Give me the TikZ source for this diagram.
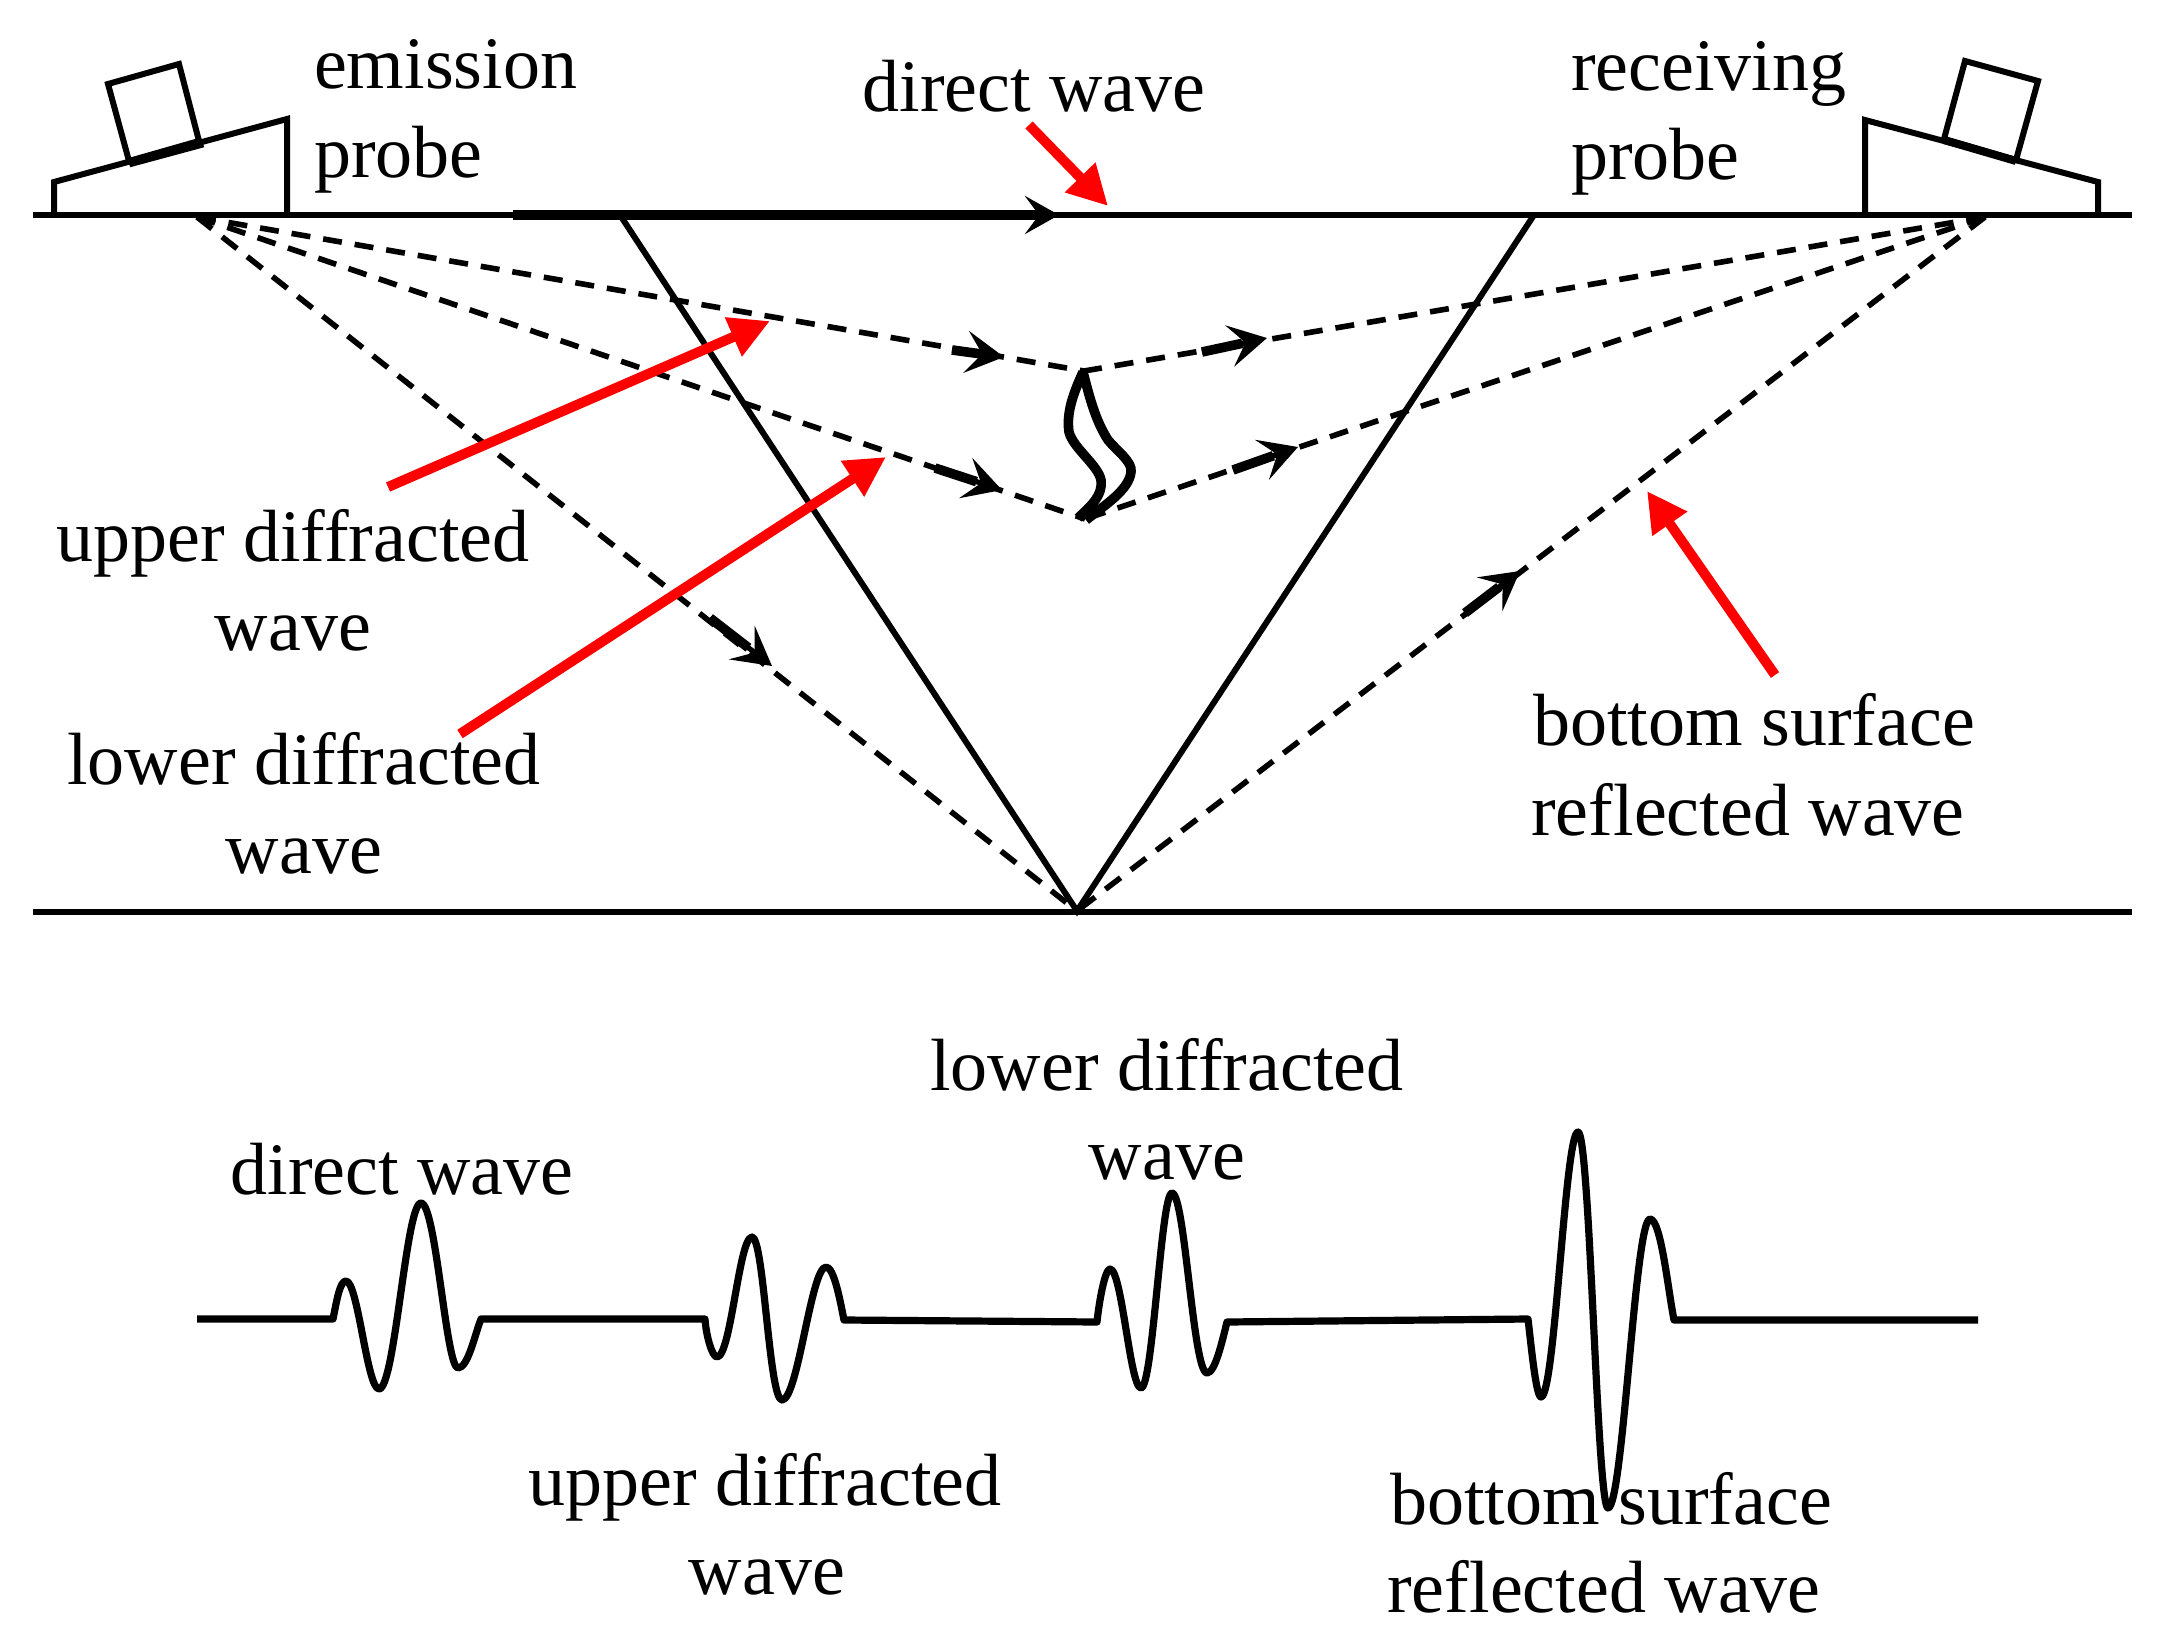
\documentclass[tikz,border=0pt]{standalone}
\usepackage{fontspec}
\setmainfont{Liberation Serif}
\usetikzlibrary{arrows.meta,calc}
\definecolor{redarrow}{HTML}{FF0000}
\tikzset{
  lbl/.style={inner sep=0pt,outer sep=0pt,font=\fontsize{37}{40}\selectfont,anchor=base},
  lblw/.style={lbl,anchor=base west},
  solidline/.style={line width=3pt,line cap=butt,line join=miter},
  dashline/.style={line width=2.8pt,dash pattern=on 9.5pt off 6.5pt},
  blackhead/.style={line width=2.6pt,-{Stealth[length=19pt,width=21pt,inset=8pt]}},
  thicktail/.style={line width=4.8pt},
  redhead/.style={draw=redarrow,line width=5pt,-{Triangle[length=20pt,width=20pt]}},
  crack/.style={line width=4.8pt,line join=round},
  trace/.style={line width=3.6pt,line join=round},
}
\newcommand{\wavearrow}[2]{%
  \draw[thicktail] (#1) -- ($(#1)!0.62!(#2)$);
  \draw[blackhead] (#1) -- (#2);}
\begin{document}
\begin{tikzpicture}[x=0.5pt,y=-0.5pt]
\useasboundingbox (0,0) rectangle (2160,1644);
\fill[white] (0,0) rectangle (2160,1644);
% key points
\coordinate (E) at (197,217);
\coordinate (R) at (1985,217);
\coordinate (P1) at (1084,371);
\coordinate (P2) at (1085,519);
\coordinate (B) at (1077,911);
\coordinate (TL) at (620,215);
\coordinate (TR) at (1534,215);
% surfaces
\coordinate (s1) at (33,215); \coordinate (s2) at (2132,215);
\coordinate (b1) at (33,912); \coordinate (b2) at (2132,912);
\draw[solidline] (s1) -- (s2);
\draw[solidline] (b1) -- (b2);
% V
\draw[solidline] (TL) -- (B) -- (TR);
% probes
\draw[solidline] (54,215) -- (54,182) -- (287,119) -- (287,215);
\draw[solidline] (108,84) -- (179,64) -- (199,141) -- (129,161) -- cycle;
\draw[line width=4.4pt] (129,163) -- (203,143);
\draw[solidline] (1865,215) -- (1865,120) -- (2098,182) -- (2098,215);
\draw[solidline] (1965,61) -- (2038,81) -- (2016,160) -- (1944,139) -- cycle;
\draw[line width=4pt] (1944,140) -- (2016,161);
% dashed paths
\draw[dashline] (E) -- (P1);
\draw[dashline] (R) -- (P1);
\draw[dashline] (E) -- (P2);
\draw[dashline] (R) -- (P2);
\draw[dashline] (E) -- (B);
\draw[dashline] (R) -- (B);
% crack
\draw[crack] (1083,372) .. controls (1074,392) and (1066,412) .. (1069,432)
  .. controls (1073,448) and (1098,465) .. (1101,480)
  .. controls (1103,495) and (1092,505) .. (1078,518);
\draw[crack] (1083,372) .. controls (1089,395) and (1095,420) .. (1108,440)
  .. controls (1116,450) and (1133,462) .. (1131,472)
  .. controls (1129,490) and (1105,505) .. (1086,520);
% black arrows
\draw[line width=5pt,-{Stealth[length=17pt,width=19pt,inset=7pt]}] (513,215) -- (1059,215);
\coordinate (u1a) at (952,350);  \coordinate (u1b) at (1004,357);
\coordinate (u2a) at (1202,352); \coordinate (u2b) at (1267,338);
\coordinate (l1a) at (935,468);  \coordinate (l1b) at (1002,490);
\coordinate (l2a) at (1233,470); \coordinate (l2b) at (1298,447);
\coordinate (w1a) at (710,618);  \coordinate (w1b) at (772,666);
\coordinate (w2a) at (1465,613); \coordinate (w2b) at (1520,571);
\wavearrow{u1a}{u1b}
\wavearrow{u2a}{u2b}
\wavearrow{l1a}{l1b}
\wavearrow{l2a}{l2b}
\wavearrow{w1a}{w1b}
\wavearrow{w2a}{w2b}
% red arrows
\draw[redhead] (388,487) -- (770,321);
\draw[redhead] (460,734) -- (886,457);
\draw[redhead] (1029,125) -- (1108,206);
\draw[redhead] (1775,675) -- (1647,491);
% traces
\draw[trace] (197,1319) -- (333,1319) .. controls +(4,-20) and +(-6,0) .. (346,1281)
  .. controls +(12,0) and +(-12,0) .. (379,1389)
  .. controls +(16,0) and +(-15,0) .. (421,1203)
  .. controls +(15,0) and +(-12,0) .. (458,1368)
  .. controls +(10,0) and +(-6,15) .. (481,1319)
  -- (705,1319) .. controls +(1,16) and +(-5,0) .. (717,1357)
  .. controls +(14,0) and +(-13,0) .. (752,1237)
  .. controls +(12,0) and +(-13,0) .. (782,1400)
  .. controls +(16,0) and +(-15,0) .. (826,1267)
  .. controls +(8,0) and +(-4,-20) .. (844,1320)
  -- (1097,1322) .. controls +(2,-20) and +(-5,0) .. (1110,1269)
  .. controls +(12,0) and +(-11,0) .. (1141,1388)
  .. controls +(12,0) and +(-11,0) .. (1172,1193)
  .. controls +(13,0) and +(-14,0) .. (1207,1373)
  .. controls +(8,0) and +(-5,20) .. (1227,1322)
  -- (1528,1319) .. controls +(3,25) and +(-5,0) .. (1541,1397)
  .. controls +(14,0) and +(-13,0) .. (1578,1132)
  .. controls +(12,0) and +(-11,0) .. (1608,1508)
  .. controls +(15,0) and +(-15,0) .. (1650,1219)
  .. controls +(11,0) and +(-6,-30) .. (1674,1320)
  -- (1978,1320);
% labels
\node[lblw] (a1) at (314,88) {emission};
\node[lblw] (a2) at (314,177) {probe};
\node[lbl] (a3) at (1034,111) {direct wave};
\node[lblw] (a4) at (1571,90) {receiving};
\node[lblw] (a5) at (1571,179) {probe};
\node[lbl] (a6) at (293,561) {upper diffracted};
\node[lbl] (a7) at (293,650) {wave};
\node[lbl] (a8) at (304,784) {lower diffracted};
\node[lbl] (a9) at (304,873) {wave};
\node[lbl] (a10) at (1754,745) {bottom surface};
\node[lbl] (a11) at (1748,835) {reflected wave};
\node[lbl] (a12) at (1167,1090) {lower diffracted};
\node[lbl] (a13) at (1167,1179) {wave};
\node[lbl] (a14) at (402,1194) {direct wave};
\node[lbl] (a15) at (765,1505) {upper diffracted};
\node[lbl] (a16) at (767,1594) {wave};
\node[lbl] (a17) at (1611,1524) {bottom surface};
\node[lbl] (a18) at (1604,1612) {reflected wave};
\end{tikzpicture}
\end{document}
